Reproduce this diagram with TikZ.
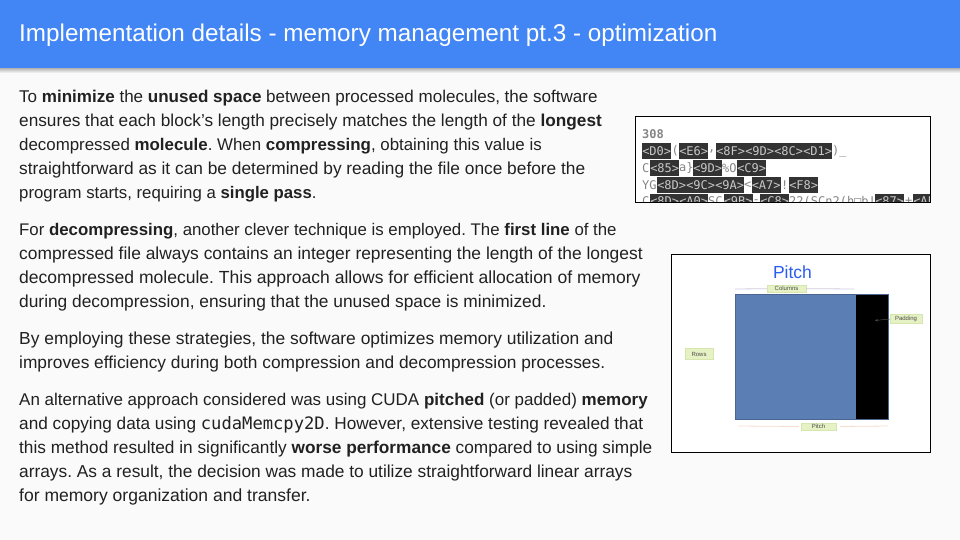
\documentclass[tikz,border=0pt]{standalone}
\usepackage{xcolor}
\usepackage{fontspec}
\setmainfont{Liberation Sans}
\newfontfamily\monotext{DejaVu Sans Mono}
\newfontfamily\hexfont{DejaVu Sans Mono}
\definecolor{headerblue}{HTML}{4285F4}
\definecolor{pagegray}{HTML}{FAFAFA}
\definecolor{bodyink}{HTML}{212121}
\definecolor{arrayblue}{HTML}{5B7FB4}
\definecolor{labelgreen}{HTML}{E6F2C4}
\definecolor{labeledge}{HTML}{D5E6AE}
\definecolor{hexgray}{HTML}{858585}
\definecolor{hexlight}{HTML}{C8C8C8}
\definecolor{hexdark}{HTML}{333333}
\definecolor{pitchblue}{HTML}{2A5CF0}
\definecolor{colline}{HTML}{CFCBE0}
\definecolor{pitchline}{HTML}{F8DDCF}
\usetikzlibrary{calc,arrows.meta}
\tikzset{
  bodyline/.style={anchor=base west,inner sep=0pt,text=bodyink},
  darktok/.style={anchor=west,inner sep=0pt,minimum height=15.5pt,minimum width=29pt,fill=hexdark,text=hexlight,font=\hexfont\fontsize{12}{14}\selectfont},
  plaintok/.style={anchor=west,inner sep=0pt,minimum height=15.5pt,text=hexgray,font=\hexfont\fontsize{12}{14}\selectfont},
  tinylabel/.style={draw=labeledge,fill=labelgreen,inner sep=0pt,text=black!70,font=\fontsize{6}{7}\selectfont},
}
\begin{document}
\begin{tikzpicture}[x=1pt,y=-1pt]

    \useasboundingbox (0,0) rectangle (960,540);
    \fill[pagegray] (0,0) rectangle (960,540);
    \shade[top color=black!30,bottom color=pagegray] (0,68) rectangle (960,73);
    \fill[headerblue] (0,0) rectangle (960,68);
    \node[anchor=base west,inner sep=0pt,text=white,font=\fontsize{24.25}{28}\selectfont] (title) at (19,42) {Implementation details - memory management pt.3 - optimization};

    \foreach \ly/\lsize/\ltext in {
        97/17.03/{To \textbf{minimize} the \textbf{unused space} between processed molecules, the software},
        121/17.22/{ensures that each block’s length precisely matches the length of the \textbf{longest}},
        145/16.88/{decompressed \textbf{molecule}. When \textbf{compressing}, obtaining this value is},
        169/17.32/{straightforward as it can be determined by reading the file once before the},
        193/16.77/{program starts, requiring a \textbf{single pass}.},
        230/16.82/{For \textbf{decompressing}, another clever technique is employed. The \textbf{first line} of the},
        254/17.39/{compressed file always contains an integer representing the length of the longest},
        278/17.53/{decompressed molecule. This approach allows for efficient allocation of memory},
        302/17.34/{during decompression, ensuring that the unused space is minimized.},
        339/17.41/{By employing these strategies, the software optimizes memory utilization and},
        363/17.32/{improves efficiency during both compression and decompression processes.},
        400/16.98/{An alternative approach considered was using CUDA \textbf{pitched} (or padded) \textbf{memory}},
        424/17.2/{and copying data using {\monotext\fontsize{17.15}{20}\selectfont cudaMemcpy2D}. However, extensive testing revealed that},
        448/17.26/{this method resulted in significantly \textbf{worse performance} compared to using simple},
        472/17.32/{arrays. As a result, the decision was made to utilize straightforward linear arrays},
        496/17.53/{for memory organization and transfer.}} {
        \node[bodyline,font=\fontsize{\lsize}{20}\selectfont\frenchspacing] (line\ly) at (19,\ly+5.5) {\ltext};
    }

    \fill[white] (635.5,116.5) rectangle (930.5,202.5);
    \begin{scope}
    \clip (635.5,116.5) rectangle (930.5,202.5);
    \node[plaintok] (hexhead) at (642,134) {\textbf{308}};
    \foreach \x/\t in {642/{<D0>},679/{<E6>},716/{<8F>},745/{<9D>},774/{<8C>},803/{<D1>}}
        \node[darktok] (hexa\x) at (\x,151) {\t};
    \foreach \x/\t in {671.5/{(},708/{,},832/{)\_}}
        \node[plaintok] (hexb\x) at (\x,151) {\t};
    \foreach \x/\t in {650/{<85>},693/{<9D>},737/{<C9>}}
        \node[darktok] (hexc\x) at (\x,168) {\t};
    \foreach \x/\t in {642/{C},679/{a\}},722/{\%O}}
        \node[plaintok] (hexd\x) at (\x,168) {\t};
    \foreach \x/\t in {657/{<8D>},686/{<9C>},715/{<9A>},751.5/{<A7>},789/{<F8>}}
        \node[darktok] (hexe\x) at (\x,185) {\t};
    \foreach \x/\t in {642/{YG},744/{<},781/{!}}
        \node[plaintok] (hexf\x) at (\x,185) {\t};
    \foreach \x/\t in {650/{<8D>},679/{<A0>},723.5/{<9B>},760/{<C8>},875/{<87>},913/{<AF>}}
        \node[darktok] (hexg\x) at (\x,201.5) {\t};
    \foreach \x/\t in {642/{C},708/{SC},752.5/{-},789/{22(SCn2(h□b!},905/{+}}
        \node[plaintok] (hexh\x) at (\x,201.5) {\t};
    \end{scope}
    \draw[black,line width=1pt] (635.5,116.5) rectangle (930.5,202.5);

    \fill[white] (671.5,254.5) rectangle (930.5,452.5);
    \draw[black,line width=1pt] (671.5,254.5) rectangle (930.5,452.5);
    \node[inner sep=0pt,text=pitchblue,font=\fontsize{17.5}{20}\selectfont] (pitchtitle) at (792.5,272) {Pitch};

    \fill[arrayblue] (735,294) rectangle (856,419);
    \fill[black] (856,294) rectangle (888,419);
    \draw[arrayblue!80!black,line width=.5pt] (735,294) rectangle (888,419);

    \node[tinylabel,minimum width=39pt,minimum height=7pt] (columns) at (786.5,288.5) {Columns};
    \node[tinylabel,minimum width=32pt,minimum height=9pt] (padding) at (906,319) {Padding};
    \node[tinylabel,minimum width=28pt,minimum height=11pt] (rows) at (699,354) {Rows};
    \node[tinylabel,minimum width=35pt,minimum height=7pt] (pitch) at (818.5,426.5) {Pitch};

    \coordinate (colleft) at (735,289);
    \coordinate (colright) at (854,289);
    \coordinate (pitchleft) at (738,426);
    \coordinate (pitchright) at (888,426);
    \coordinate (padtip) at (875,320.5);

    \draw[colline,line width=.8pt] (colleft) -- (columns);
    \draw[colline,line width=.8pt] (columns) -- (colright);
    \draw[pitchline,line width=.8pt] (pitchleft) -- ($(pitch.west)+(-2,0)$);
    \draw[pitchline,line width=.8pt] ($(pitch.east)+(4,0)$) -- (pitchright);
    \draw[-{Stealth[length=3pt,width=2.5pt]},black!70,line width=.5pt] (padding.west) -- (padtip);
\end{tikzpicture}
\end{document}
